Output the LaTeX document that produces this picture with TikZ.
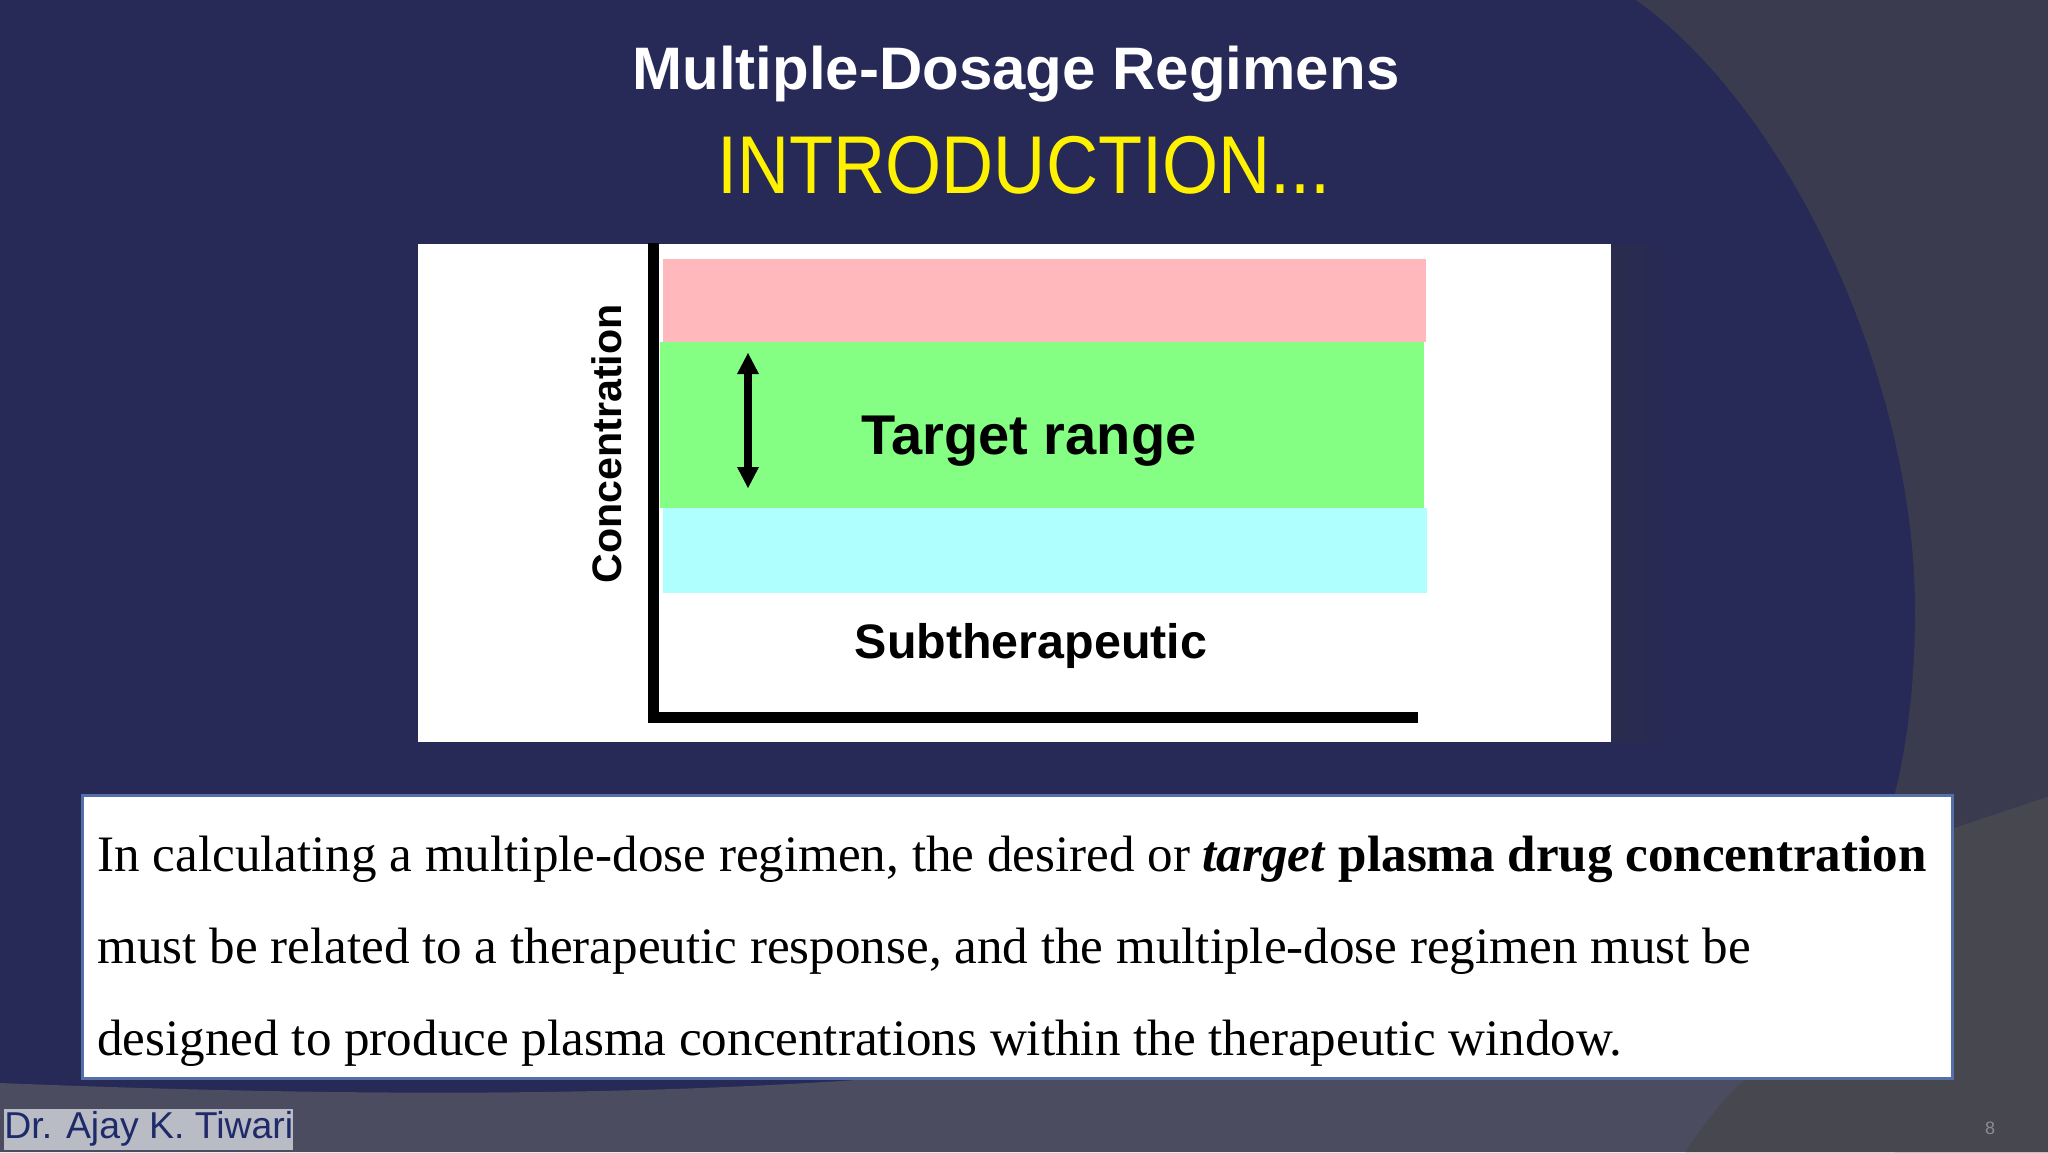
\documentclass[tikz,border=0pt]{standalone}
\usepackage{fontspec}
\usepackage{tikz}
\setmainfont{Liberation Serif}
\setsansfont{Liberation Sans}
\definecolor{navybg}{HTML}{272957}
\definecolor{slatebg}{HTML}{3A3B4E}
\definecolor{bandbg}{HTML}{4B4C60}
\definecolor{cornerbg}{HTML}{47484F}
\definecolor{haloblue}{HTML}{2A2C4D}
\definecolor{boxedge}{HTML}{5570A8}
\definecolor{pinkband}{HTML}{FFB8BC}
\definecolor{greenband}{HTML}{84FF84}
\definecolor{cyanband}{HTML}{B0FFFF}
\definecolor{tagfill}{HTML}{B9BCC4}
\definecolor{tagtext}{HTML}{1F2A6A}
\definecolor{pagegrey}{HTML}{8A8B96}

\begin{document}
\begin{tikzpicture}[x=0.5pt,y=0.5pt]
\tikzstyle{every node}+=[inner sep=0pt]
\useasboundingbox (0,-1152) rectangle (2048,0);
\fill [navybg] (0,-1152) rectangle (2048,0);
\fill [slatebg] (1636,0) .. controls (1790,-110) and (1915,-380) .. (1915,-610) .. controls (1915,-680) and (1908,-740) .. (1895,-793) -- (1895,-1152) -- (2048,-1152) -- (2048,0) -- cycle;
\shade [left color=haloblue,right color=navybg] (1611,-244) rectangle (1680,-742);
\fill [bandbg] (0,-1083) .. controls (300,-1095) and (600,-1098) .. (870,-1079) -- (1300,-1040) -- (1952,-829) -- (2048,-797) -- (2048,-1152) -- (0,-1152) -- cycle;
\fill [cornerbg] (1748,-1077) .. controls (1725,-1095) and (1700,-1130) .. (1685,-1152) -- (2048,-1152) -- (2048,-797) -- (1952,-829) -- cycle;
\draw (1016,-74) node (heading) [white,font=\sffamily\bfseries\fontsize{30}{36}\selectfont] {Multiple-Dosage Regimens};
\draw (1024,-165) node (subheading) [yellow,xscale=0.88,font=\sffamily\fontsize{41}{48}\selectfont] {INTRODUCTION...};
\fill [white] (418,-244) rectangle (1611,-742);
\fill [pinkband] (663,-259) rectangle (1426,-342);
\fill [greenband] (660,-342) rectangle (1424,-508);
\fill [cyanband] (663,-508) rectangle (1427,-593);
\coordinate (origin) at (653,-717);
\coordinate (ytop) at (653,-243);
\coordinate (xend) at (1418,-717);
\draw [black,line width=5.5pt] (ytop) -- (origin) -- (xend);
\coordinate (rangetop) at (748,-353);
\coordinate (rangebottom) at (748,-488);
\draw [black,line width=4pt,shorten >=8pt,shorten <=8pt] (rangetop) -- (rangebottom);
\fill [black] (rangetop) -- ++(11,-21) -- ++(-22,0) -- cycle;
\fill [black] (rangebottom) -- ++(11,21) -- ++(-22,0) -- cycle;
\draw (607,-444) node (ylabel) [rotate=90,font=\sffamily\bfseries\fontsize{20.6}{24}\selectfont] {Concentration};
\draw (1029,-441) node (targetlabel) [font=\sffamily\bfseries\fontsize{28}{32}\selectfont] {Target range};
\draw (1031,-646) node (sublabel) [font=\sffamily\bfseries\fontsize{24.2}{28}\selectfont] {Subtherapeutic};
\draw (81,-794) node (bodybox) [anchor=north west,draw=boxedge,line width=1.5pt,fill=white,minimum width=935pt,minimum height=141.5pt] {};
\draw (97,-951) node (bodytext) [anchor=west,align=left,font=\fontsize{25.55}{46}\selectfont] {In calculating a multiple-dose regimen, the desired or \textit{\textbf{target}} \textbf{plasma drug concentration}\\ must be related to a therapeutic response, and the multiple-dose regimen must be\\ designed to produce plasma concentrations within the therapeutic window.};
\draw (4,-1129) node (doctortag) [anchor=west,fill=tagfill,text=tagtext,minimum width=143pt,minimum height=20.5pt,font=\sffamily\fontsize{18.7}{22}\selectfont] {Dr. Ajay K. Tiwari};
\draw (1990,-1128) node (pagenum) [pagegrey,font=\sffamily\fontsize{9}{11}\selectfont] {8};
\end{tikzpicture}
\end{document}
